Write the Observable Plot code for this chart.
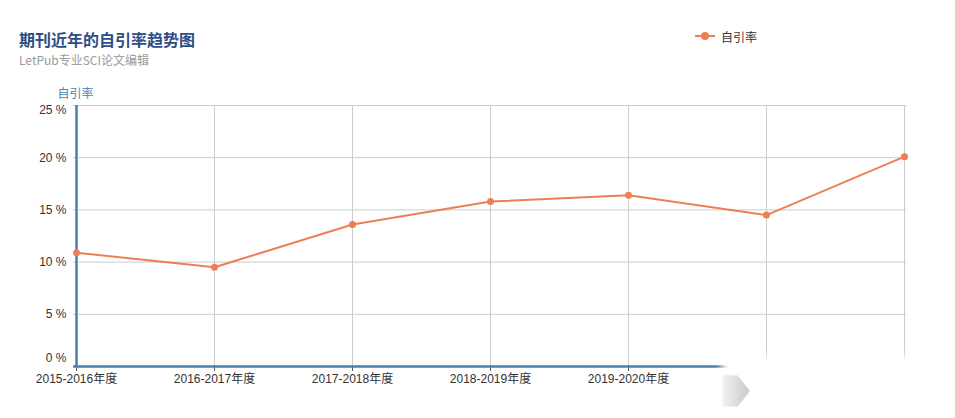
<!DOCTYPE html>
<html>
<head>
<meta charset="utf-8">
<script src="https://cdn.jsdelivr.net/npm/d3@7"></script>
<script src="https://cdn.jsdelivr.net/npm/@observablehq/plot@0.6"></script>
<style>
  body { margin: 0; background: #fff; font-family: "Liberation Sans", "Noto Sans CJK SC", sans-serif; }
  #wrap { position: relative; width: 955px; height: 418px; overflow: hidden; }
  #header { position: relative; width: 955px; height: 80px; }
  #title { position: absolute; left: 19px; top: 27px; font-size: 16px; font-weight: bold; color: #2f4d85; font-family: "Noto Sans CJK SC", sans-serif; }
  #subtitle { position: absolute; left: 19px; top: 51px; font-size: 12px; color: #9a9a9a; font-family: "Noto Sans CJK SC", sans-serif; }
  #legend { position: absolute; left: 694px; top: 27px; height: 18px; display: flex; align-items: center; font-size: 12px; color: #333; font-family: "Noto Sans CJK SC", sans-serif; }
  #legend svg { margin-right: 5px; }
  #chart svg { display: block; }
  #veil { position: absolute; left: 730px; top: 364px; width: 240px; height: 60px; background: #fff; box-shadow: 0 0 8px 8px #fff; }
  #arrow { position: absolute; left: 722px; top: 375px; width: 28px; height: 32px; background: linear-gradient(90deg, #f4f4f4, #c8c8c8); clip-path: polygon(0 0, 55% 0, 100% 50%, 55% 100%, 0 100%); filter: blur(1px); }
</style>
</head>
<body>
<div id="wrap">
  <div id="header">
    <div id="title">期刊近年的自引率趋势图</div>
    <div id="subtitle">LetPub专业SCI论文编辑</div>
    <div id="legend"></div>
  </div>
  <div id="chart"></div>
  <div id="veil"></div>
  <div id="arrow"></div>
</div>
<script>
const years = ["2015-2016年度", "2016-2017年度", "2017-2018年度", "2018-2019年度", "2019-2020年度", "2020-2021年度", "2021-2022年度"];
const selfCitationRate = [10.9, 9.5, 13.6, 15.8, 16.4, 14.5, 20.1];
const yTicks = [0, 5, 10, 15, 20, 25];
const seriesName = "自引率";

const lineColor = "#ee7f52";
const axisColor = "#4a7fab";

const data = years.map((y, i) => ({year: y, value: selfCitationRate[i]}));
const fmt = d => d + " %";
const yMax = yTicks[yTicks.length - 1];
const yMin = yTicks[0];
const midTicks = yTicks.filter(t => t !== yMin && t !== yMax);

// legend
const lg = document.getElementById("legend");
lg.innerHTML = `<svg width="22" height="12"><line x1="1" y1="6" x2="21" y2="6" stroke="${lineColor}" stroke-width="2"/><circle cx="11" cy="6" r="4" fill="${lineColor}"/></svg><span>${seriesName}</span>`;

const yLabelOpts = {frameAnchor: "left", dx: -7, textAnchor: "end", fill: "#333", fontSize: 12, text: fmt};

const chart = Plot.plot({
  width: 955,
  height: 338,
  marginLeft: 73,
  marginRight: 49,
  marginTop: 25,
  marginBottom: 52,
  style: {fontFamily: "'Liberation Sans', 'Noto Sans CJK SC', sans-serif", fontSize: "12px", color: "#333", background: "#fff"},
  x: {type: "point", domain: years, padding: 0},
  y: {domain: [yMin, yMax], ticks: yTicks, axis: null},
  marks: [
    Plot.ruleY(yTicks, {stroke: "#cccccc", strokeWidth: 1}),
    Plot.ruleX(years, {y1: yMin, y2: yMax, stroke: "#cccccc", strokeWidth: 1}),
    Plot.text(midTicks, {...yLabelOpts, y: d => d}),
    Plot.text([yMax], {...yLabelOpts, y: d => d, dy: 5}),
    Plot.text([yMin], {...yLabelOpts, y: d => d, dy: -8}),
    Plot.axisX({tickSize: 5, tickPadding: 3, label: null, stroke: "#555", fill: "#333", fontSize: 12}),
    Plot.ruleY([yMin], {stroke: axisColor, strokeWidth: 2.5}),
    Plot.ruleX([years[0]], {y1: yMin, y2: yMax, stroke: axisColor, strokeWidth: 2.5}),
    Plot.text([seriesName], {frameAnchor: "top-left", lineAnchor: "middle", dx: 2, dy: -11, text: d => d, textAnchor: "middle", fill: "#3f86b8", fontSize: 12, fontFamily: "'Noto Sans CJK SC', sans-serif"}),
    Plot.line(data, {x: "year", y: "value", stroke: lineColor, strokeWidth: 2}),
    Plot.dot(data, {x: "year", y: "value", r: 3.5, fill: lineColor, stroke: "none"})
  ]
});
document.getElementById("chart").appendChild(chart);
</script>
</body>
</html>
